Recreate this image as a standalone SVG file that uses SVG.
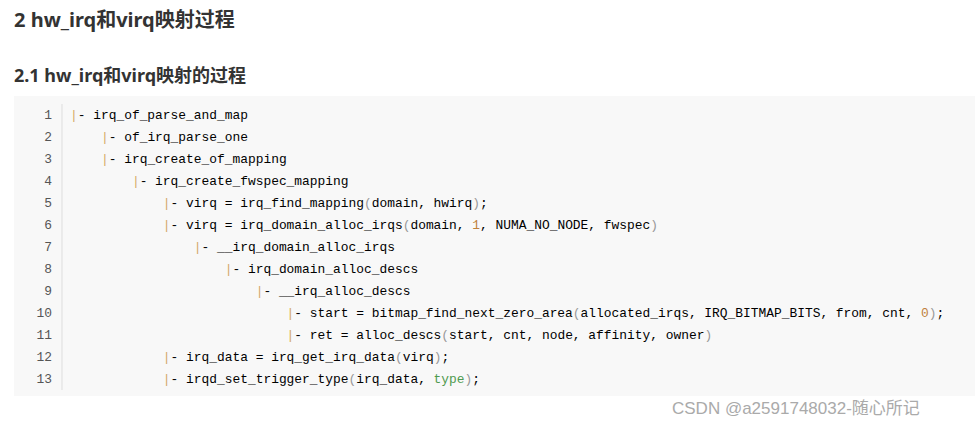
<svg xmlns="http://www.w3.org/2000/svg" width="975" height="425" viewBox="0 0 975 425">
<style>
.h{font-family:"Noto Sans","Noto Sans CJK SC",sans-serif;font-weight:bold;fill:#333}
.c{font-family:"Liberation Mono",monospace;font-size:12.9px;fill:#000;white-space:pre}
.n{font-family:"Liberation Mono",monospace;font-size:12.9px;fill:#555;text-anchor:end}
.b{fill:#d4a867}.p{fill:#999}.k{fill:#c0813b}.g{fill:#4f9a4f}
</style>
<rect width="975" height="425" fill="#fff"/>
<text class="h" x="14" y="27" font-size="20">2 hw_irq和virq映射过程</text>
<text class="h" x="14" y="82" font-size="18">2.1 hw_irq和virq映射的过程</text>
<g id="code">
<rect x="14" y="96" width="961" height="300" fill="#f8f8f8"/>
<line x1="62" y1="104" x2="62" y2="390" stroke="#ddd"/>
<g id="nums">
<text class="n" x="52" y="119">1</text><text class="n" x="52" y="141">2</text><text class="n" x="52" y="163">3</text><text class="n" x="52" y="185">4</text><text class="n" x="52" y="207">5</text><text class="n" x="52" y="229">6</text><text class="n" x="52" y="251">7</text><text class="n" x="52" y="273">8</text><text class="n" x="52" y="295">9</text><text class="n" x="52" y="317">10</text><text class="n" x="52" y="339">11</text><text class="n" x="52" y="361">12</text><text class="n" x="52" y="383">13</text>
</g>
<g id="lines">
<text class="c" x="70" y="119"><tspan class="b">|</tspan>- irq_of_parse_and_map</text>
<text class="c" x="70" y="141">    <tspan class="b">|</tspan>- of_irq_parse_one</text>
<text class="c" x="70" y="163">    <tspan class="b">|</tspan>- irq_create_of_mapping</text>
<text class="c" x="70" y="185">        <tspan class="b">|</tspan>- irq_create_fwspec_mapping</text>
<text class="c" x="70" y="207">            <tspan class="b">|</tspan>- virq = irq_find_mapping<tspan class="p">(</tspan>domain, hwirq<tspan class="p">)</tspan>;</text>
<text class="c" x="70" y="229">            <tspan class="b">|</tspan>- virq = irq_domain_alloc_irqs<tspan class="p">(</tspan>domain, <tspan class="k">1</tspan>, NUMA_NO_NODE, fwspec<tspan class="p">)</tspan></text>
<text class="c" x="70" y="251">                <tspan class="b">|</tspan>- __irq_domain_alloc_irqs</text>
<text class="c" x="70" y="273">                    <tspan class="b">|</tspan>- irq_domain_alloc_descs</text>
<text class="c" x="70" y="295">                        <tspan class="b">|</tspan>- __irq_alloc_descs</text>
<text class="c" x="70" y="317">                            <tspan class="b">|</tspan>- start = bitmap_find_next_zero_area<tspan class="p">(</tspan>allocated_irqs, IRQ_BITMAP_BITS, from, cnt, <tspan class="k">0</tspan><tspan class="p">)</tspan>;</text>
<text class="c" x="70" y="339">                            <tspan class="b">|</tspan>- ret = alloc_descs<tspan class="p">(</tspan>start, cnt, node, affinity, owner<tspan class="p">)</tspan></text>
<text class="c" x="70" y="361">            <tspan class="b">|</tspan>- irq_data = irq_get_irq_data<tspan class="p">(</tspan>virq<tspan class="p">)</tspan>;</text>
<text class="c" x="70" y="383">            <tspan class="b">|</tspan>- irqd_set_trigger_type<tspan class="p">(</tspan>irq_data, <tspan class="g">type</tspan><tspan class="p">)</tspan>;</text>
</g>
</g>
<text x="672" y="414" font-family="'Liberation Sans','Noto Sans CJK SC',sans-serif" font-size="17" fill="#aaa">CSDN @a2591748032-随心所记</text>
</svg>
